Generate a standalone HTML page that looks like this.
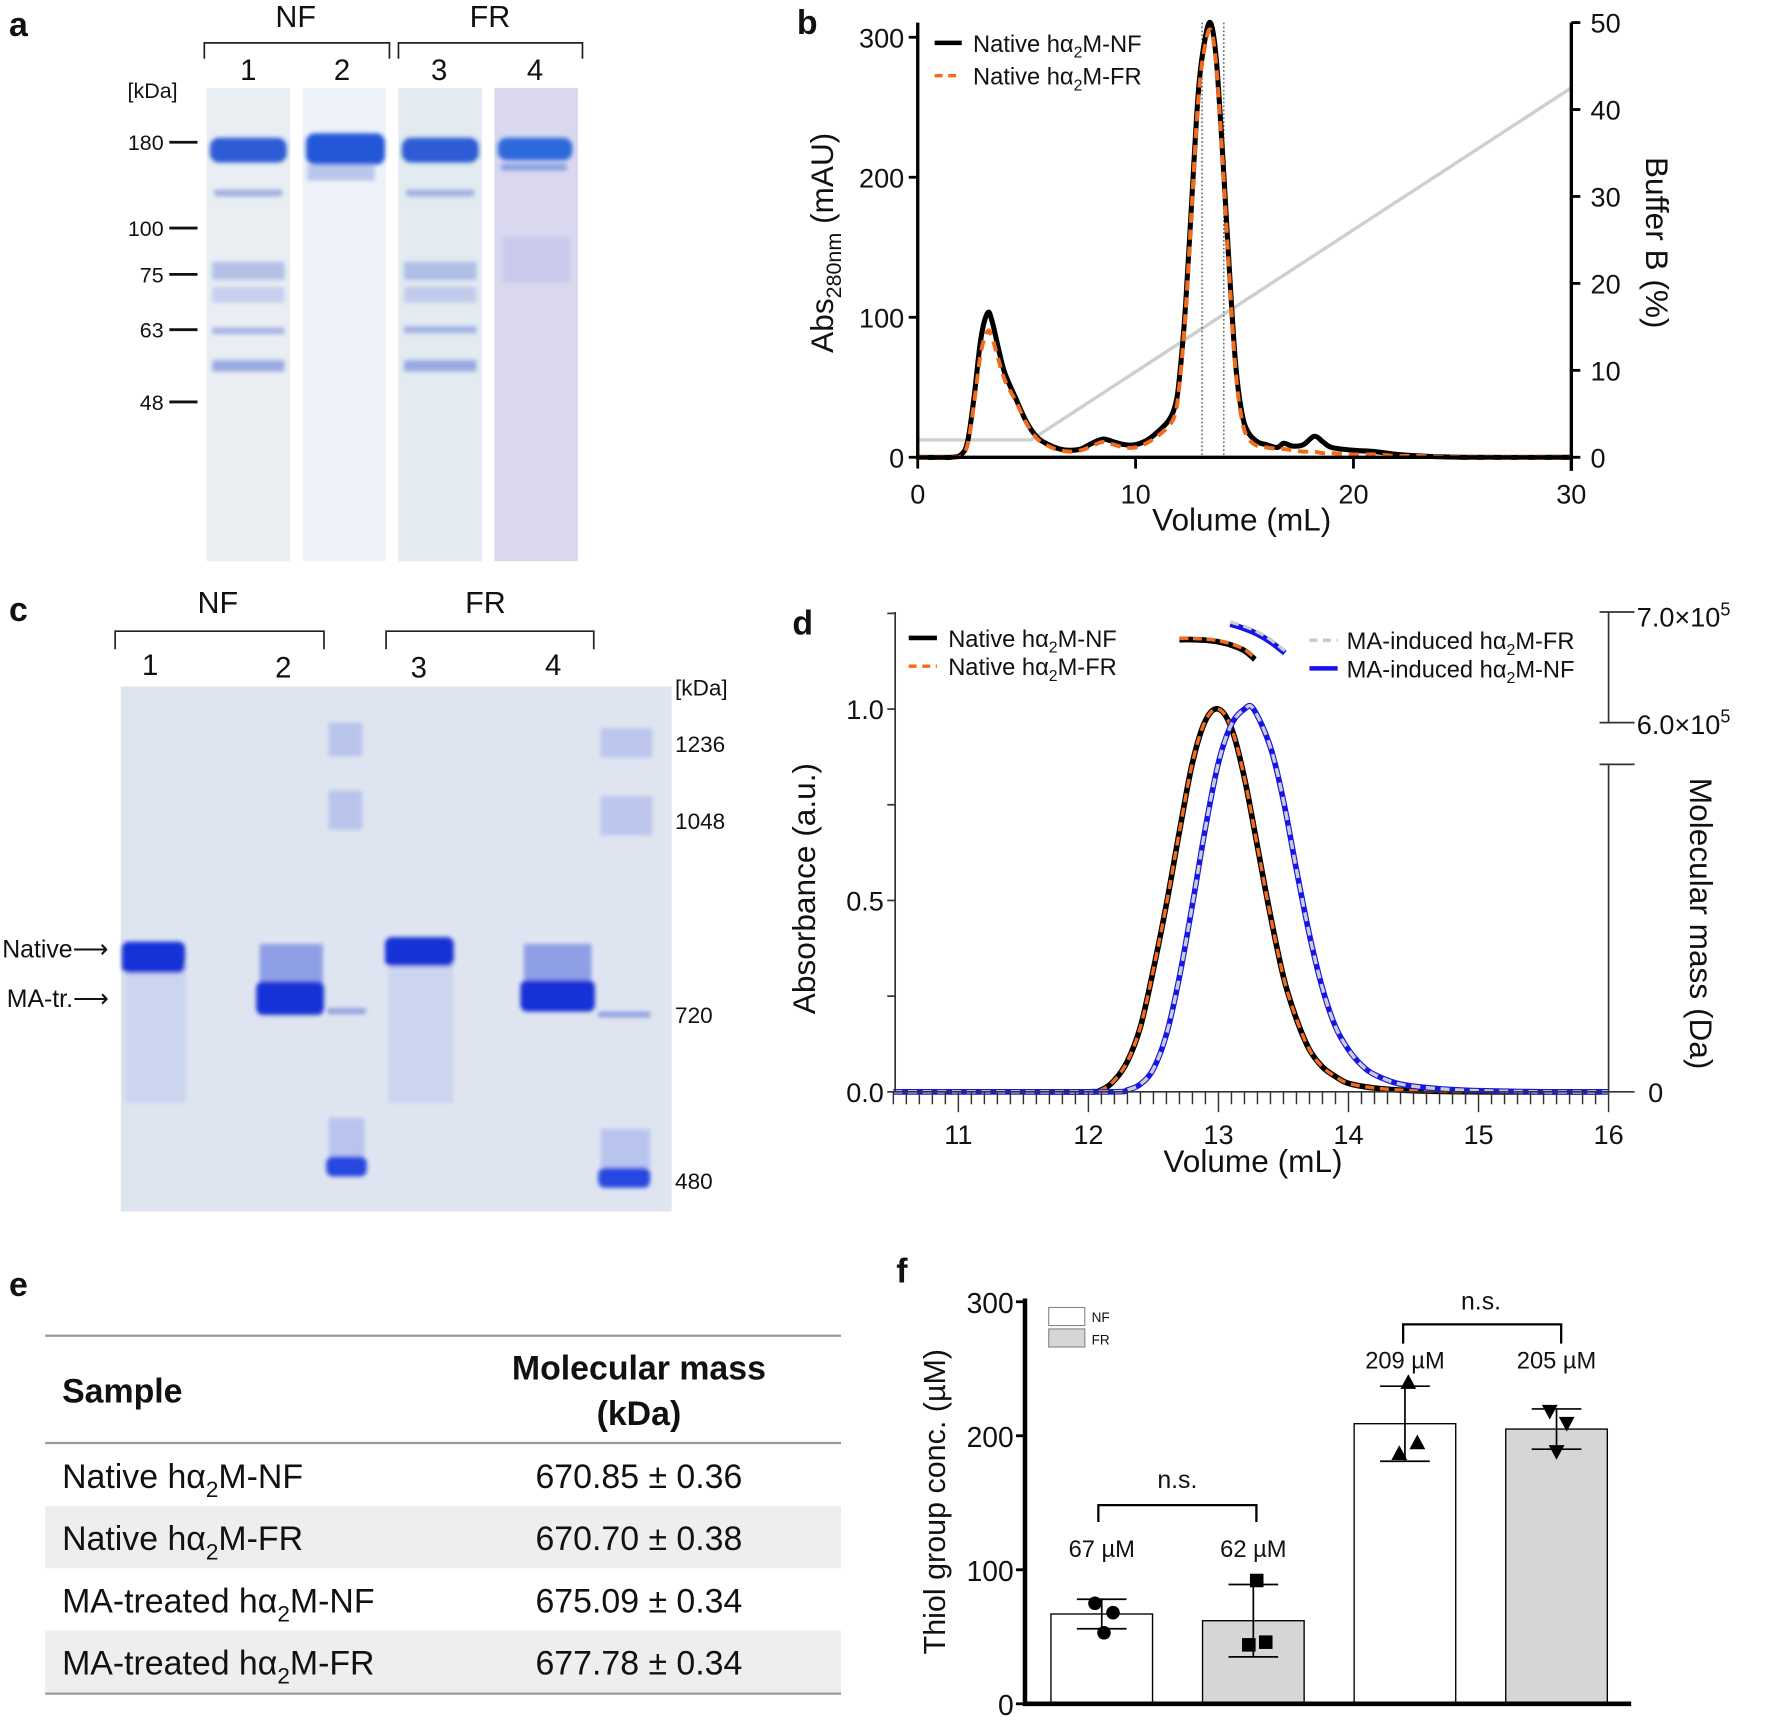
<!DOCTYPE html>
<html><head><meta charset="utf-8">
<style>
html,body{margin:0;padding:0;background:#fff;}
svg{display:block;font-family:"Liberation Sans",sans-serif;}
.t{fill:#111;}
</style></head>
<body>
<svg id="fig" width="1770" height="1723" viewBox="0 0 1568 1526" preserveAspectRatio="none" xmlns="http://www.w3.org/2000/svg">
<defs>
<filter id="blur2" x="-20%" y="-50%" width="140%" height="200%"><feGaussianBlur stdDeviation="2"/></filter>
</defs>

<!-- ================= PANEL A ================= -->
<g>
<text x="8" y="32" font-size="30" font-weight="bold" class="t">a</text>
<text x="262" y="24" font-size="27" text-anchor="middle" class="t">NF</text>
<path d="M181,52 V38 H345 V52" fill="none" stroke="#222" stroke-width="1.5"/>
<text x="434" y="24" font-size="27" text-anchor="middle" class="t">FR</text>
<path d="M353,52 V38 H516 V52" fill="none" stroke="#222" stroke-width="1.5"/>
<text x="220" y="71" font-size="26" text-anchor="middle" class="t">1</text>
<text x="303" y="71" font-size="26" text-anchor="middle" class="t">2</text>
<text x="389" y="71" font-size="26" text-anchor="middle" class="t">3</text>
<text x="474" y="71" font-size="26" text-anchor="middle" class="t">4</text>
<text x="113" y="87" font-size="19" class="t">[kDa]</text>
<g font-size="19" text-anchor="end" class="t">
<text x="145" y="133">180</text><text x="145" y="209">100</text><text x="145" y="250">75</text><text x="145" y="299">63</text><text x="145" y="363">48</text>
</g>
<g stroke="#111" stroke-width="2.5">
<line x1="150" y1="126" x2="175" y2="126"/><line x1="150" y1="202" x2="175" y2="202"/><line x1="150" y1="243" x2="175" y2="243"/><line x1="150" y1="292" x2="175" y2="292"/><line x1="150" y1="356" x2="175" y2="356"/>
</g>
<rect x="183" y="78" width="74" height="419" fill="#e9eef3"/>
<rect x="268" y="78" width="74" height="419" fill="#eef3f9"/>
<rect x="353" y="78" width="74" height="419" fill="#e1ebf0"/>
<rect x="438" y="78" width="74" height="419" fill="#d9d8ef"/>
<g filter="url(#blur2)">
<rect x="186" y="122" width="68" height="22" rx="8" fill="#2d5bd6"/>
<rect x="271" y="118" width="70" height="28" rx="8" fill="#2458d8"/>
<rect x="272" y="146" width="60" height="14" fill="#b9c7ec"/>
<rect x="356" y="122" width="68" height="22" rx="8" fill="#2d5bd6"/>
<rect x="441" y="122" width="66" height="20" rx="8" fill="#2f69dc"/>
<rect x="444" y="145" width="58" height="6" fill="#8aa0e0"/>
<rect x="190" y="168" width="60" height="6" fill="#9fb0e0"/><rect x="360" y="168" width="60" height="6" fill="#9fb0e0"/>
<rect x="188" y="232" width="64" height="16" fill="#b4bfe6"/><rect x="358" y="232" width="64" height="16" fill="#b0bee6"/>
<rect x="188" y="254" width="64" height="14" fill="#c6cfee"/><rect x="358" y="254" width="64" height="14" fill="#c0cbec"/>
<rect x="188" y="290" width="64" height="6" fill="#a8b4e4"/><rect x="358" y="289" width="64" height="6" fill="#a0b0e4"/>
<rect x="188" y="319" width="64" height="10" fill="#9aaae2"/><rect x="358" y="319" width="64" height="10" fill="#97a8e2"/>
<rect x="445" y="210" width="60" height="40" fill="#c9c9ec"/>
</g>
</g>

<!-- ================= PANEL C ================= -->
<g>
<text x="8" y="550" font-size="30" font-weight="bold" class="t">c</text>
<text x="193" y="543" font-size="27" text-anchor="middle" class="t">NF</text>
<path d="M102,575 V559 H287 V575" fill="none" stroke="#222" stroke-width="1.5"/>
<text x="430" y="543" font-size="27" text-anchor="middle" class="t">FR</text>
<path d="M342,575 V559 H526 V575" fill="none" stroke="#222" stroke-width="1.5"/>
<g font-size="26" text-anchor="middle" class="t">
<text x="133" y="598">1</text><text x="251" y="600">2</text><text x="371" y="600">3</text><text x="490" y="598">4</text>
</g>
<rect x="107" y="608" width="488" height="465" fill="#dfe5f0"/>
<g filter="url(#blur2)">
<rect x="110" y="852" width="55" height="125" fill="#ccd5ef"/>
<rect x="344" y="852" width="58" height="125" fill="#ccd5ef"/>
<rect x="230" y="836" width="56" height="36" fill="#8e9fe6"/>
<rect x="464" y="836" width="60" height="36" fill="#8e9fe6"/>
<rect x="108" y="834" width="56" height="28" rx="6" fill="#1532d6"/>
<rect x="341" y="830" width="61" height="26" rx="6" fill="#1532d6"/>
<rect x="227" y="869" width="60" height="30" rx="6" fill="#1532d6"/>
<rect x="461" y="868" width="66" height="28" rx="6" fill="#1532d6"/>
<rect x="291" y="640" width="30" height="30" fill="#b9c4ec"/>
<rect x="291" y="700" width="30" height="35" fill="#b9c4ec"/>
<rect x="532" y="645" width="46" height="26" fill="#bcc6ec"/>
<rect x="532" y="705" width="46" height="35" fill="#bcc6ec"/>
<rect x="290" y="893" width="34" height="5" fill="#8f9ee0"/>
<rect x="530" y="896" width="46" height="5" fill="#8f9ee0"/>
<rect x="291" y="990" width="32" height="40" fill="#b8c4ee"/>
<rect x="532" y="1000" width="44" height="35" fill="#b8c4ee"/>
<rect x="289" y="1024" width="36" height="18" rx="6" fill="#2547e0"/>
<rect x="530" y="1034" width="46" height="18" rx="6" fill="#2547e0"/>
</g>
<text x="598" y="616" font-size="20" class="t">[kDa]</text>
<g font-size="20" class="t">
<text x="598" y="666">1236</text><text x="598" y="734">1048</text><text x="598" y="906">720</text><text x="598" y="1053">480</text>
</g>
<text x="2" y="848" font-size="22" class="t">Native⟶</text>
<text x="6" y="892" font-size="22" class="t">MA-tr.⟶</text>
</g>

<!-- ================= PANEL B ================= -->
<g id="panelB">
<text x="706" y="30" font-size="30" font-weight="bold" class="t">b</text>
</g>

<!-- ================= PANEL D ================= -->
<g id="panelD">
<text x="702" y="562" font-size="30" font-weight="bold" class="t">d</text>
</g>

<!-- ================= PANEL E ================= -->
<g>
<text x="8" y="1148" font-size="30" font-weight="bold" class="t">e</text>
<rect x="40" y="1334" width="705" height="55" fill="#eeeeee"/>
<rect x="40" y="1444" width="705" height="55" fill="#eeeeee"/>
<line x1="40" y1="1183" x2="745" y2="1183" stroke="#999" stroke-width="2"/>
<line x1="40" y1="1278" x2="745" y2="1278" stroke="#999" stroke-width="2"/>
<line x1="40" y1="1500" x2="745" y2="1500" stroke="#999" stroke-width="2"/>
<text x="55" y="1242" font-size="30" font-weight="bold" class="t">Sample</text>
<text x="566" y="1222" font-size="30" font-weight="bold" text-anchor="middle" class="t">Molecular mass</text>
<text x="566" y="1262" font-size="30" font-weight="bold" text-anchor="middle" class="t">(kDa)</text>
<g font-size="30" class="t">
<text x="55" y="1318">Native hα<tspan font-size="20" dy="8">2</tspan><tspan dy="-8">M-NF</tspan></text>
<text x="566" y="1318" text-anchor="middle">670.85 ± 0.36</text>
<text x="55" y="1373">Native hα<tspan font-size="20" dy="8">2</tspan><tspan dy="-8">M-FR</tspan></text>
<text x="566" y="1373" text-anchor="middle">670.70 ± 0.38</text>
<text x="55" y="1428">MA-treated hα<tspan font-size="20" dy="8">2</tspan><tspan dy="-8">M-NF</tspan></text>
<text x="566" y="1428" text-anchor="middle">675.09 ± 0.34</text>
<text x="55" y="1483">MA-treated hα<tspan font-size="20" dy="8">2</tspan><tspan dy="-8">M-FR</tspan></text>
<text x="566" y="1483" text-anchor="middle">677.78 ± 0.34</text>
</g>
</g>

<!-- ================= PANEL F ================= -->
<g id="panelF">
<text x="794" y="1136" font-size="30" font-weight="bold" class="t">f</text>
</g>
</svg>

<script>
// ---------- Panel B data ----------
const bVolume = [0,1.5,2.0,2.3,2.6,2.9,3.2,3.4,3.7,4.0,4.5,5.0,5.5,6.0,6.5,7.0,7.5,8.0,8.5,9.0,9.5,10.0,10.5,11.0,11.5,11.8,12.0,12.3,12.6,12.9,13.2,13.45,13.7,14.0,14.3,14.6,14.9,15.2,15.6,16.0,16.5,16.8,17.2,17.7,18.2,18.6,19.0,20.0,21.0,22.0,23.0,25.0,30.0];
const bNF = [0,0,2,12,45,85,103,98,78,60,42,25,14,9,6,5,6,10,13,11,9,9,12,18,26,36,55,110,190,265,300,310,285,215,135,65,30,17,11,9,7,10,8,9,15,11,7,5,4,2,1,0,0];
const bFR = [0,0,1,10,40,75,90,86,70,55,40,24,13,8,5,4,5,8,11,9,7,7,10,15,22,30,50,105,185,260,295,305,280,210,130,60,25,13,8,7,6,6,5,4,4,3,3,2,2,1,1,0,0];
const bGradX = [0,5.2,30];
const bGradB = [2,2,42.5];
const bFractions = [13.05,14.05];
const bYTicks = [0,100,200,300];
const bY2Ticks = [0,10,20,30,40,50];
const bXTicks = [0,10,20,30];

// ---------- Panel D data ----------
const dNativeX = [10.5,11.5,12.0,12.1,12.2,12.3,12.4,12.5,12.6,12.7,12.8,12.9,13.0,13.1,13.2,13.3,13.4,13.5,13.6,13.7,13.8,13.9,14.0,14.2,14.5,15.0,16.0];
const dNativeY = [0,0,0,0.005,0.03,0.08,0.17,0.32,0.49,0.68,0.86,0.97,1.0,0.95,0.82,0.64,0.46,0.30,0.19,0.11,0.065,0.04,0.022,0.01,0.003,0,0];
const dMAX = [10.5,11.5,12.2,12.3,12.4,12.5,12.6,12.7,12.8,12.9,13.0,13.1,13.2,13.27,13.4,13.5,13.6,13.7,13.8,13.9,14.0,14.1,14.2,14.4,14.7,15.0,15.5,16.0];
const dMAY = [0,0,0,0.005,0.02,0.06,0.15,0.30,0.49,0.69,0.86,0.96,1.0,1.0,0.90,0.76,0.58,0.41,0.27,0.17,0.11,0.07,0.045,0.02,0.008,0.003,0,0];
const dNativeMassX = [12.70,12.80,12.90,13.00,13.10,13.20,13.28];
const dNativeMass = [675,675,674.5,673,670,665,657];
const dMAMassX = [13.09,13.2,13.3,13.4,13.51];
const dMAMass = [689,685,680,673,663];
const dYTicks = [0,0.5,1.0];
const dXTicks = [11,12,13,14,15,16];

// ---------- Panel F data ----------
const fGroups = ['Native NF','Native FR','MA NF','MA FR'];
const fMeans = [67,62,209,205];
const fSD = [11,27,28,15];
const fPoints = [[75,68,53],[92,44,46],[240,187,195],[218,209,188]];
const fPointJitter = [[-6,10,2],[3,-4,11],[3,-5,11],[-6,9,0]];
const fLabels = ['67 µM','62 µM','209 µM','205 µM'];
const fYTicks = [0,100,200,300];

const NS = 'http://www.w3.org/2000/svg';
function mk(tag, attrs, parent){ const e=document.createElementNS(NS,tag); for(const k in attrs) e.setAttribute(k,attrs[k]); parent.appendChild(e); return e; }
function txt(str, attrs, parent){ const e=mk('text',attrs,parent); e.textContent=str; return e; }
function poly(xs, ys, sx, sy){ return xs.map((x,i)=>sx(x).toFixed(1)+','+sy(ys[i]).toFixed(1)).join(' '); }
function smooth(xs, ys, sx, sy){
 const p=xs.map((x,i)=>[sx(x),sy(ys[i])]);
 let d='M'+p[0][0].toFixed(1)+','+p[0][1].toFixed(1);
 for(let i=0;i<p.length-1;i++){
  const p0=p[Math.max(0,i-1)],p1=p[i],p2=p[i+1],p3=p[Math.min(p.length-1,i+2)];
  const c1=[p1[0]+(p2[0]-p0[0])/6,p1[1]+(p2[1]-p0[1])/6];
  const c2=[p2[0]-(p3[0]-p1[0])/6,p2[1]-(p3[1]-p1[1])/6];
  d+=' C'+c1[0].toFixed(1)+','+c1[1].toFixed(1)+' '+c2[0].toFixed(1)+','+c2[1].toFixed(1)+' '+p2[0].toFixed(1)+','+p2[1].toFixed(1);
 }
 return d;
}

// ====== Panel B ======
(function(){
 const g=document.getElementById('panelB');
 const X0=813,X1=1392,Y0=405,Ytop=33;
 const sx=v=>X0+(v-0)/30*(X1-X0);
 const sy=v=>Y0-(v/300)*(Y0-Ytop);
 const sy2=v=>Y0-(v/50)*(Y0-20);
 let e=mk('polyline',{points:poly(bGradX,bGradB,sx,sy2),fill:'none',stroke:'#cfcfcf','stroke-width':3},g);
  
 bFractions.forEach(f=>{ const l=mk('line',{x1:sx(f),x2:sx(f),y1:20,y2:Y0,stroke:'#333','stroke-width':1,'stroke-dasharray':'1.5,2'},g);
    });
 e=mk('path',{d:smooth(bVolume,bNF,sx,sy),fill:'none',stroke:'#000','stroke-width':4.5,'stroke-linejoin':'round'},g);
  
 e=mk('path',{d:smooth(bVolume,bFR,sx,sy),fill:'none',stroke:'#f26b1d','stroke-width':3.5,'stroke-dasharray':'9,6','stroke-linejoin':'round'},g);
  
 e=mk('line',{x1:X0,x2:X0,y1:20,y2:Y0+2,stroke:'#000','stroke-width':3},g);
  
 e=mk('line',{x1:X0,x2:X1,y1:Y0,y2:Y0,stroke:'#000','stroke-width':3},g);
  
 e=mk('line',{x1:X1,x2:X1,y1:20,y2:Y0+12,stroke:'#000','stroke-width':3},g);
  
 bYTicks.forEach(v=>{ mk('line',{x1:X0-8,x2:X0,y1:sy(v),y2:sy(v),stroke:'#000','stroke-width':2.5},g);
  const t=txt(String(v),{x:X0-12,y:sy(v)+9,'font-size':24,'text-anchor':'end',class:'t'},g);
    });
 bY2Ticks.forEach(v=>{ mk('line',{x1:X1,x2:X1+8,y1:sy2(v),y2:sy2(v),stroke:'#000','stroke-width':2.5},g);
  const t=txt(String(v),{x:X1+17,y:sy2(v)+9,'font-size':24,class:'t'},g);
    });
 bXTicks.forEach(v=>{ mk('line',{x1:sx(v),x2:sx(v),y1:Y0,y2:Y0+10,stroke:'#000','stroke-width':2.5},g);
  const t=txt(String(v),{x:sx(v),y:446,'font-size':24,'text-anchor':'middle',class:'t'},g);
    });
 let t=txt('Volume (mL)',{x:1100,y:470,'font-size':28,'text-anchor':'middle',class:'t'},g);
  
 t=mk('text',{x:0,y:0,'font-size':28,'text-anchor':'middle',class:'t',transform:'translate(738,215) rotate(-90)'},g);
 t.innerHTML='Abs<tspan font-size="19" dy="7">280nm</tspan><tspan dy="-7"> (mAU)</tspan>';
  
 t=txt('Buffer B (%)',{x:0,y:0,'font-size':28,'text-anchor':'middle',class:'t',transform:'translate(1458,215) rotate(90)'},g);
  
 mk('line',{x1:828,x2:852,y1:38,y2:38,stroke:'#000','stroke-width':4},g);
 mk('line',{x1:828,x2:852,y1:67,y2:67,stroke:'#f26b1d','stroke-width':3,'stroke-dasharray':'7,5'},g);
 t=mk('text',{x:862,y:46,'font-size':21,class:'t'},g); t.innerHTML='Native hα<tspan font-size="14" dy="5">2</tspan><tspan dy="-5">M-NF</tspan>';
  
 t=mk('text',{x:862,y:75,'font-size':21,class:'t'},g); t.innerHTML='Native hα<tspan font-size="14" dy="5">2</tspan><tspan dy="-5">M-FR</tspan>';
  
})();

// ====== Panel D ======
(function(){
 const g=document.getElementById('panelD');
 const X0=793,Y0=967;
 const sx=v=>849+(v-11)*115.2;
 const sy=v=>Y0-v*339;
 const sm=v=>542+(700-v)*0.98;
 let e=mk('path',{d:smooth(dNativeX,dNativeY,sx,sy),fill:'none',stroke:'#000','stroke-width':5},g);
  
 e=mk('path',{d:smooth(dNativeX,dNativeY,sx,sy),fill:'none',stroke:'#f26b1d','stroke-width':3,'stroke-dasharray':'8,5'},g);
  
 e=mk('path',{d:smooth(dMAX,dMAY,sx,sy),fill:'none',stroke:'#1515e8','stroke-width':5},g);
  
 e=mk('path',{d:smooth(dMAX,dMAY,sx,sy),fill:'none',stroke:'#cccccc','stroke-width':3,'stroke-dasharray':'8,5'},g);
  
 e=mk('path',{d:smooth(dNativeMassX,dNativeMass,sx,sm),fill:'none',stroke:'#000','stroke-width':5},g);
  
 e=mk('path',{d:smooth(dNativeMassX,dNativeMass.map(v=>v+1),sx,sm),fill:'none',stroke:'#f26b1d','stroke-width':3,'stroke-dasharray':'8,4'},g);
  
 e=mk('path',{d:smooth(dMAMassX,dMAMass,sx,sm),fill:'none',stroke:'#1515e8','stroke-width':5},g);
  
 e=mk('path',{d:smooth(dMAMassX,dMAMass.map(v=>v+2),sx,sm),fill:'none',stroke:'#cccccc','stroke-width':3,'stroke-dasharray':'8,4'},g);
  
 e=mk('line',{x1:X0,x2:X0,y1:542,y2:Y0,stroke:'#333','stroke-width':1.5},g);
  
 e=mk('line',{x1:X0,x2:1425,y1:Y0,y2:Y0,stroke:'#333','stroke-width':1.5},g);
  
 [0,0.25,0.5,0.75,1.0,1.25].forEach(v=>mk('line',{x1:X0-7,x2:X0,y1:sy(v),y2:sy(v),stroke:'#333','stroke-width':1.5},g));
 dYTicks.forEach(v=>{ const t=txt(v.toFixed(1),{x:X0-10,y:sy(v)+9,'font-size':24,'text-anchor':'end',class:'t'},g);
    });
 for(let k=0;k<=55;k++){ const v=10.5+k*0.1; const major=Math.abs(v-Math.round(v))<1e-6;
  mk('line',{x1:sx(v),x2:sx(v),y1:Y0,y2:Y0+(major?18:11),stroke:'#333','stroke-width':1.3},g); }
 dXTicks.forEach(v=>{ const t=txt(String(v),{x:sx(v),y:1013,'font-size':24,'text-anchor':'middle',class:'t'},g);
    });
 e=mk('line',{x1:1425,x2:1425,y1:542,y2:640,stroke:'#333','stroke-width':1.5},g);
  
 e=mk('line',{x1:1425,x2:1425,y1:677,y2:Y0,stroke:'#333','stroke-width':1.5},g);
  
 [[542],[640],[677],[Y0]].forEach(a=>mk('line',{x1:1417,x2:1448,y1:a[0],y2:a[0],stroke:'#333','stroke-width':1.5},g));
 let t=mk('text',{x:1450,y:555,'font-size':24,class:'t'},g); t.innerHTML='7.0×10<tspan font-size="16" dy="-10">5</tspan>';
  
 t=mk('text',{x:1450,y:650,'font-size':24,class:'t'},g); t.innerHTML='6.0×10<tspan font-size="16" dy="-10">5</tspan>';
  
 t=txt('0',{x:1460,y:976,'font-size':24,class:'t'},g);
  
 t=txt('Volume (mL)',{x:1110,y:1038,'font-size':28,'text-anchor':'middle',class:'t'},g);
  
 t=txt('Absorbance (a.u.)',{x:0,y:0,'font-size':28,'text-anchor':'middle',class:'t',transform:'translate(722,787) rotate(-90)'},g);
  
 t=txt('Molecular mass (Da)',{x:0,y:0,'font-size':28,'text-anchor':'middle',class:'t',transform:'translate(1497,818) rotate(90)'},g);
  
 mk('line',{x1:805,x2:830,y1:565,y2:565,stroke:'#000','stroke-width':4},g);
 mk('line',{x1:805,x2:830,y1:590,y2:590,stroke:'#f26b1d','stroke-width':3,'stroke-dasharray':'7,5'},g);
 mk('line',{x1:1160,x2:1185,y1:567,y2:567,stroke:'#c8c8c8','stroke-width':3,'stroke-dasharray':'7,5'},g);
 mk('line',{x1:1160,x2:1185,y1:592,y2:592,stroke:'#1515e8','stroke-width':4},g);
 const leg=[[840,573,'Native hα','M-NF','legend-native-nf'],[840,598,'Native hα','M-FR','legend-native-fr'],[1193,575,'MA-induced hα','M-FR','legend-ma-fr'],[1193,600,'MA-induced hα','M-NF','legend-ma-nf']];
 leg.forEach(L=>{ const tt=mk('text',{x:L[0],y:L[1],'font-size':21,class:'t'},g);
  tt.innerHTML=L[2]+'<tspan font-size="14" dy="5">2</tspan><tspan dy="-5">'+L[3]+'</tspan>';
    });
})();

// ====== Panel F ======
(function(){
 const g=document.getElementById('panelF');
 const X0=908,Y0=1509;
 const sy=v=>Y0-v*1.187;
 const barX=i=>931+i*134.3;
 const BW=90;
 const fills=['#ffffff','#d6d6d6','#ffffff','#d6d6d6'];
 fMeans.forEach((m,i)=>{
  const r=mk('rect',{x:barX(i),y:sy(m),width:BW,height:Y0-sy(m),fill:fills[i],stroke:'#000','stroke-width':1.2},g);
   
  const cx=barX(i)+BW/2;
  const eb=mk('path',{d:`M${cx},${sy(m+fSD[i])} V${sy(m-fSD[i])} M${cx-22},${sy(m+fSD[i])} H${cx+22} M${cx-22},${sy(m-fSD[i])} H${cx+22}`,stroke:'#000','stroke-width':1.5,fill:'none'},g);
   
  fPoints[i].forEach((p,j)=>{
   const px=cx+fPointJitter[i][j], py=sy(p); let s;
   if(i===0) s=mk('circle',{cx:px,cy:py,r:6,fill:'#000'},g);
   else if(i===1) s=mk('rect',{x:px-6,y:py-6,width:12,height:12,fill:'#000'},g);
   else if(i===2) s=mk('path',{d:`M${px},${py-7} L${px+7},${py+6} L${px-7},${py+6} Z`,fill:'#000'},g);
   else s=mk('path',{d:`M${px},${py+7} L${px+7},${py-6} L${px-7},${py-6} Z`,fill:'#000'},g);
    
  });
  const t=txt(fLabels[i],{x:cx,y:(i<2?1379:1212),'font-size':21,'text-anchor':'middle',class:'t'},g);
   
 });
 let br=mk('path',{d:`M973,1348 V1333 H1113 V1348`,fill:'none',stroke:'#000','stroke-width':2},g);
  
 let t=txt('n.s.',{x:1043,y:1318,'font-size':22,'text-anchor':'middle',class:'t'},g);
  
 br=mk('path',{d:`M1243,1190 V1173 H1383 V1190`,fill:'none',stroke:'#000','stroke-width':2},g);
  
 t=txt('n.s.',{x:1312,y:1160,'font-size':22,'text-anchor':'middle',class:'t'},g);
  
 let a=mk('line',{x1:X0,x2:X0,y1:1150,y2:Y0+2,stroke:'#000','stroke-width':4},g);
  
 a=mk('line',{x1:X0,x2:1445,y1:Y0,y2:Y0,stroke:'#000','stroke-width':4},g);
  
 fYTicks.forEach(v=>{ mk('line',{x1:X0-8,x2:X0,y1:sy(v),y2:sy(v),stroke:'#000','stroke-width':2.5},g);
  const tt=txt(String(v),{x:X0-10,y:sy(v)+10,'font-size':25,'text-anchor':'end',class:'t'},g);
    });
 t=txt('Thiol group conc. (µM)',{x:0,y:0,'font-size':27,'text-anchor':'middle',class:'t',transform:'translate(837,1330) rotate(-90)'},g);
  
 let l=mk('rect',{x:929,y:1158,width:32,height:16,fill:'#fff',stroke:'#888','stroke-width':1},g);
  
 l=mk('rect',{x:929,y:1177,width:32,height:16,fill:'#d6d6d6',stroke:'#888','stroke-width':1},g);
  
 t=txt('NF',{x:967,y:1171,'font-size':12,class:'t'},g);
  
 t=txt('FR',{x:967,y:1191,'font-size':12,class:'t'},g);
  
})();
</script>
</body></html>
